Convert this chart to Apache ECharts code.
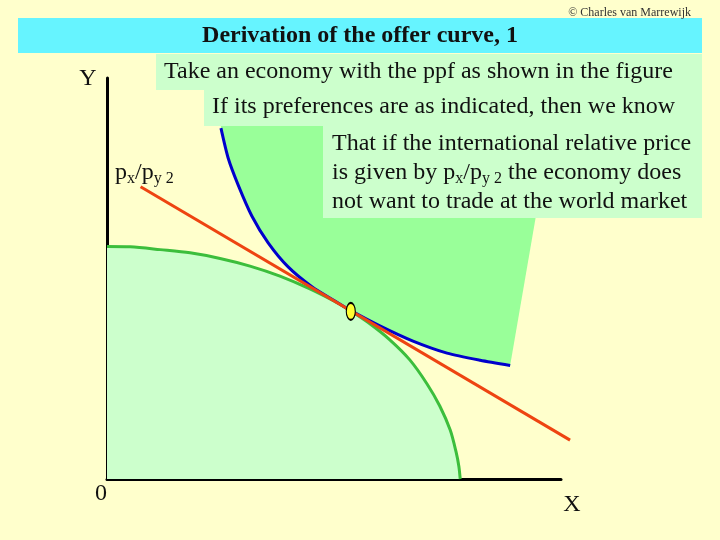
<!DOCTYPE html>
<html><head><meta charset="utf-8">
<script src="https://cdn.jsdelivr.net/npm/echarts@6/dist/echarts.min.js"></script>
<style>html,body{margin:0;padding:0;background:#FFFFCC}#c{width:720px;height:540px}</style>
</head><body><div id="c"></div>
<script>
// Production possibility frontier (ppf)
const ppfX = [0, 5.1, 11.7, 18.3, 24.9, 31.5, 38.1, 44.7, 51.3, 53.7, 57.9, 62.3, 66.7, 70.5, 73.3, 75.6, 76.9, 77.5, 77.8];
const ppfY = [58.0, 57.9, 57.2, 56.4, 55.0, 53.1, 50.6, 47.4, 43.6, 41.9, 38.7, 34.7, 29.7, 23.7, 18.2, 12.2, 6.7, 3.2, 0];
// Indifference curve
const indX = [25.1, 26.7, 28.9, 31.9, 35.5, 39.9, 45.2, 50.2, 53.7, 60.1, 67.4, 74.9, 82.2, 88.8];
const indY = [87.5, 80.0, 73.3, 65.6, 58.9, 52.9, 47.9, 44.4, 42.0, 38.2, 34.4, 31.4, 29.6, 28.3];
// Upper contour (preferred set) closing edge
const prefEdgeX = [98.5, 25.1];
const prefEdgeY = [92.0, 92.0];
// World price line p_x/p_y 2
const priceX = [7.4, 102.0];
const priceY = [72.9, 9.7];
// Autarky equilibrium
const eqX = [53.7];
const eqY = [41.8];

const titleText = 'Derivation of the offer curve, 1';
const copyrightText = '\u00A9 Charles van Marrewijk';
const note1 = 'Take an economy with the ppf as shown in the figure';
const note2 = 'If its preferences are as indicated, then we know';
const note3 = ['{n|That if the international relative price}',
               '{n|is given by p}{s|x}{n|/p}{s|y 2}{n| the economy does}',
               '{n|not want to trade at the world market}'];
const priceLabel = '{n|p}{s|x}{n|/p}{s|y 2}';
const axisYName = 'Y', axisXName = 'X', originName = '0';

const zip = (a, b) => a.map((v, i) => [v, b[i]]);
const prefPoly = zip(indX, indY).concat(zip(prefEdgeX, prefEdgeY));
const pricePts = zip(priceX, priceY);

const F = "'Liberation Serif', 'Times New Roman', serif";
const rich = {
  n: {fontSize: 24, fontFamily: F, lineHeight: 24, fill: '#111', color: '#111'},
  s: {fontSize: 16, fontFamily: F, lineHeight: 16, padding: [12, 0, 0, 0], fill: '#111', color: '#111'}
};
function txt(text, x, y, opts) {
  opts = opts || {};
  return {
    type: 'text', x: x, y: y, z: 20,
    style: Object.assign({
      text: text, fill: '#111', font: '24px ' + F,
      align: 'left', verticalAlign: 'middle',
      textAlign: 'left', textVerticalAlign: 'middle'
    }, opts)
  };
}
function box(x, y, w, h, color) {
  return {type: 'rect', z: 15, shape: {x: x, y: y, width: w, height: h}, style: {fill: color}};
}

const chart = echarts.init(document.getElementById('c'));
chart.setOption({
  animation: false,
  backgroundColor: '#FFFFCC',
  grid: {left: 107, top: 78, width: 454, height: 401, containLabel: false},
  xAxis: {type: 'value', min: 0, max: 100,
    axisLine: {show: true, lineStyle: {color: '#000', width: 3}},
    axisTick: {show: false}, axisLabel: {show: false}, splitLine: {show: false}},
  yAxis: {type: 'value', min: 0, max: 100,
    axisLine: {show: true, lineStyle: {color: '#000', width: 3}},
    axisTick: {show: false}, axisLabel: {show: false}, splitLine: {show: false}},
  series: [
    {type: 'line', data: zip(ppfX, ppfY), smooth: 0.3, symbol: 'none', z: 1,
      lineStyle: {color: '#3CBE3C', width: 3}, areaStyle: {color: '#CCFFCC', opacity: 1}},
    {type: 'custom', z: 2, clip: false, data: [[0, 0]],
      renderItem: function (params, api) {
        return {type: 'polygon', shape: {points: prefPoly.map(p => api.coord(p))},
          style: {fill: '#99FF99'}};
      }},
    {type: 'line', data: zip(indX, indY), smooth: 0.25, symbol: 'none', z: 3,
      lineStyle: {color: '#0000CC', width: 3}},
    {type: 'custom', z: 4, clip: false, data: [[0, 0]],
      renderItem: function (params, api) {
        const a = api.coord(pricePts[0]), b = api.coord(pricePts[1]);
        return {type: 'line', shape: {x1: a[0], y1: a[1], x2: b[0], y2: b[1]},
          style: {stroke: '#EE4411', lineWidth: 3}};
      }},
    {type: 'scatter', data: zip(eqX, eqY), symbol: 'circle', symbolSize: [9, 17], z: 5,
      itemStyle: {color: '#FFFF33', borderColor: '#000', borderWidth: 1.5, opacity: 1}}
  ],
  graphic: [
    txt(copyrightText, 691, 13, {font: '12px ' + F, align: 'right', textAlign: 'right', fill: '#333'}),
    box(18, 18, 684, 35, '#66F4FF'),
    txt(titleText, 360, 36, {font: 'bold 24px ' + F, align: 'center', textAlign: 'center'}),
    box(156, 54, 546, 36, '#CCFFCC'),
    txt(note1, 164, 72),
    box(204, 90, 498, 36, '#CCFFCC'),
    txt(note2, 212, 107),
    box(323, 126, 379, 92, '#CCFFCC'),
    txt(note3[0], 332, 144, {rich: rich}),
    txt(note3[1], 332, 173, {rich: rich}),
    txt(note3[2], 332, 202, {rich: rich}),
    txt(priceLabel, 115, 173, {rich: rich}),
    txt(axisYName, 88, 79, {align: 'center', textAlign: 'center'}),
    txt(axisXName, 572, 505, {align: 'center', textAlign: 'center'}),
    txt(originName, 101, 494, {align: 'center', textAlign: 'center'})
  ]
});
</script></body></html>
